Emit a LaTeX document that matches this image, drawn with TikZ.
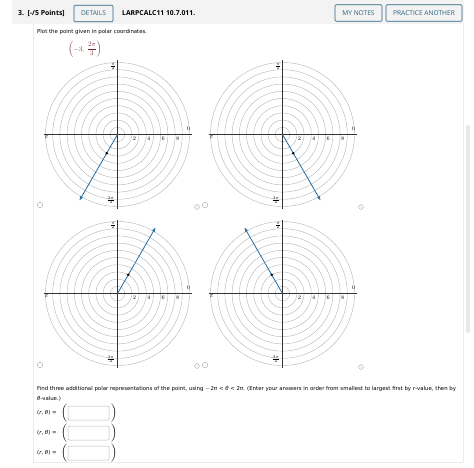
\documentclass[tikz,border=0pt]{standalone}
\usepackage{fontspec}
\setmainfont{DejaVu Sans}
\newfontfamily\headfont{Open Sans}
\usetikzlibrary{arrows.meta}
\definecolor{rayblue}{RGB}{36,106,158}
\definecolor{btnblue}{RGB}{42,98,128}
\definecolor{givenred}{RGB}{118,36,48}
\definecolor{headgrey}{RGB}{243,243,243}
\begin{document}
\begin{tikzpicture}[x=1pt, y=1pt,
  ring/.style={gray!60, line width=0.4pt},
  axis/.style={black!80, line width=0.9pt},
  ray/.style={rayblue, line width=0.8pt, -{Stealth[length=4.5pt, width=3.4pt]}},
  dot/.style={circle, fill=black, minimum size=2.8pt, inner sep=0pt},
  lbl/.style={inner sep=0pt, font=\scriptsize, scale=0.8},
  radio/.style={circle, draw=gray!60, line width=0.5pt, minimum size=5.6pt, inner sep=0pt},
  info/.style={circle, draw=gray!70, line width=0.4pt, minimum size=4.8pt, inner sep=0pt,
    text=gray!80, font=\fontsize{3.4}{3.4}\selectfont},
  btn/.style={draw=btnblue, line width=0.6pt, rounded corners=1pt, text=btnblue,
    minimum height=16.5pt, inner sep=0pt, font=\headfont\fontsize{6.6}{6.6}\selectfont},
  txt/.style={anchor=west, inner sep=0pt, font=\fontsize{5.4}{5.4}\selectfont},
  ansbox/.style={draw=gray!55, line width=0.5pt, rounded corners=1pt,
    minimum width=41pt, minimum height=14pt, inner sep=0pt}]
%
\useasboundingbox (0,0) rectangle (474,467);
%
% header strip
\fill[headgrey] (12,443) rectangle (464,467);
\node[anchor=west, inner sep=0pt, font=\headfont\bfseries\fontsize{6.9}{6.9}\selectfont]
  (qnum) at (18,454) {3.\ \ [-/5 Points]};
\node[btn, minimum width=39pt] (details) at (93.5,453.5) {DETAILS};
\node[anchor=west, inner sep=0pt, font=\headfont\bfseries\fontsize{6.8}{6.8}\selectfont]
  (qcode) at (122,454) {LARPCALC11 10.7.011.};
\node[btn, minimum width=47pt] (notes) at (358.5,454) {MY NOTES};
\node[btn, minimum width=76pt] (practice) at (424,454) {PRACTICE ANOTHER};
%
% panel and scroll bar
\draw[black!8, line width=0.5pt] (33,443) -- (33,5) -- (463,5) -- (463,443);
\fill[black!9, rounded corners=1.5pt] (466,134) rectangle (470,342);
%
\node[txt] (ask) at (37,435) {Plot the point given in polar coordinates.};
\node[inner sep=0pt, text=givenred, scale=0.68] (given) at (85,417.5)
  {$\displaystyle\left(-3,\ \frac{2\pi}{3}\right)$};
%
% the four polar grids
\foreach \cx/\cy/\ang [count=\k] in {117.5/332.5/240, 282.5/332.5/300,
                                     117.5/173.5/60, 282.5/173.5/120} {
  \coordinate (o\k) at (\cx,\cy);
  \foreach \r in {1,...,10}
    \draw[ring] (o\k) circle [radius=7.2*\r];
  \coordinate (w\k) at (\cx-74,\cy);
  \coordinate (e\k) at (\cx+74,\cy);
  \coordinate (n\k) at (\cx,\cy+74);
  \coordinate (s\k) at (\cx,\cy-74);
  \draw[axis] (w\k) -- (e\k);
  \draw[axis] (n\k) -- (s\k);
  %
  \node[lbl] (top\k) at (\cx-4.5,\cy+68) {$\frac{\pi}{2}$};
  \node[lbl] (bot\k) at (\cx-6.5,\cy-65.5) {$\frac{3\pi}{2}$};
  \node[lbl] (pi\k) at (\cx-71,\cy-3) {$\pi$};
  \node[lbl] (zero\k) at (\cx+71,\cy+6) {$0$};
  \foreach \t in {2,4,6,8}
    \node[lbl] (tick\k-\t) at (\cx+7.2*\t+2.5,\cy-3.8) {$\t$};
  %
  \path (o\k) ++(\ang:76) coordinate (tip\k);
  \draw[ray] (o\k) -- (tip\k);
  \path (o\k) ++(\ang:21.6) node[dot] (pt\k) {};
}
%
% choice buttons
\node[radio] (ch1) at (40,262) {};
\node[info] (inf1) at (197,260) {i};
\node[radio] (ch2) at (205,262) {};
\node[info] (inf2) at (361,260) {i};
\node[radio] (ch3) at (40,102) {};
\node[info] (inf3) at (197,101) {i};
\node[radio] (ch4) at (205,102) {};
\node[info] (inf4) at (361,100) {i};
%
% second part
\node[txt] (find1) at (37,78) {Find three additional polar representations of the point,
  using \mbox{$-$}2\textit{π} < \textit{θ} < 2\textit{π}. (Enter your answers in order from
  smallest to largest first by \textit{r}-value, then by};
\node[txt] (find2) at (37,68) {\textit{θ}-value.)};
%
\foreach \yy [count=\k] in {54,34,14} {
  \node[txt] (rt\k) at (37,\yy) {(\textit{r}, \textit{θ}) =};
  \node[inner sep=0pt] (lp\k) at (64,\yy) {$\Big($};
  \node[ansbox] (box\k) at (88.5,\yy) {};
  \node[inner sep=0pt] (rp\k) at (114,\yy) {$\Big)$};
}
%
\end{tikzpicture}
\end{document}
